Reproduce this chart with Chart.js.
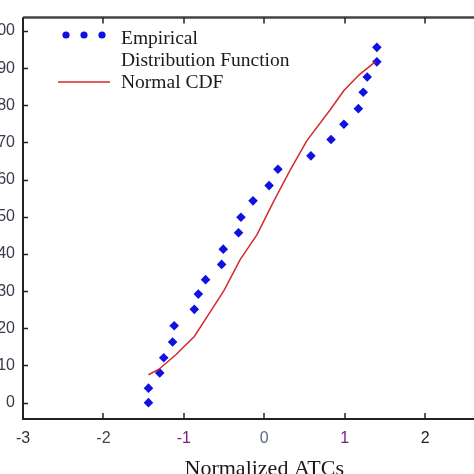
<!DOCTYPE html>
<html>
<head>
<meta charset="utf-8">
<script src="https://cdn.jsdelivr.net/npm/chart.js@4"></script>
<style>
  html, body { margin: 0; padding: 0; background: #fff; overflow: hidden; }
  #wrap { position: absolute; left: 0; top: 0; width: 520px; height: 474px; }
</style>
</head>
<body>
<div id="wrap"><canvas id="chart" width="520" height="474"></canvas></div>
<script>
const xTicks = [-3, -2, -1, 0, 1, 2, 3];
const yTicks = [0, 10, 20, 30, 40, 50, 60, 70, 80, 90, 100];

// empirical distribution points
const empX = [-1.44, -1.44, -1.30, -1.25, -1.14, -1.12, -0.87, -0.82, -0.73, -0.53, -0.51, -0.32,
              -0.29, -0.14, 0.06, 0.17, 0.58, 0.83, 0.99, 1.17, 1.23, 1.28, 1.40, 1.40];
const empY = [0, 3.9, 8.0, 12.1, 16.3, 20.7, 25.1, 29.2, 33.1, 37.2, 41.3, 45.7,
              49.9, 54.3, 58.4, 62.8, 66.4, 70.8, 74.9, 79.1, 83.5, 87.6, 91.7, 95.6];

// normal CDF curve
const cdfX = [-1.44, -1.31, -1.10, -0.87, -0.67, -0.50, -0.30, -0.09, 0.12, 0.32, 0.53, 0.82, 0.99, 1.19, 1.38];
const cdfY = [7.5, 9.0, 12.9, 17.8, 24.5, 30.2, 38.5, 45.2, 54.3, 62.5, 70.5, 78.8, 84.0, 88.4, 91.7];

const BLUE = '#1010e0';
const RED = '#d42a2a';
const xLabelColors = ['#333', '#444', '#7a1a7a', '#5a6a80', '#7a1a7a', '#222', '#222'];

// frame, inward ticks and the legend
const framePlugin = {
  id: 'frame',
  afterDraw(chart) {
    const { ctx, chartArea: a, scales: { x, y } } = chart;
    ctx.save();
    ctx.strokeStyle = '#222';
    ctx.lineWidth = 2;
    ctx.beginPath();
    ctx.moveTo(a.left, a.top); ctx.lineTo(a.left, a.bottom);
    ctx.lineTo(a.right, a.bottom);
    ctx.stroke();
    ctx.strokeStyle = '#444';
    ctx.lineWidth = 2.5;
    ctx.beginPath();
    ctx.moveTo(a.left, a.top); ctx.lineTo(a.right, a.top);
    ctx.stroke();
    ctx.lineWidth = 1.5;
    ctx.strokeStyle = '#222';
    ctx.beginPath();
    xTicks.forEach(v => {
      const px = Math.round(x.getPixelForValue(v));
      ctx.moveTo(px, a.bottom); ctx.lineTo(px, a.bottom - 6);
      ctx.moveTo(px, a.top); ctx.lineTo(px, a.top + 6);
    });
    yTicks.forEach(v => {
      const py = Math.round(y.getPixelForValue(v)) + 0.5;
      ctx.moveTo(a.left, py); ctx.lineTo(a.left + 5, py);
    });
    ctx.stroke();

    // legend
    ctx.fillStyle = BLUE;
    [66, 84, 102].forEach(cx => {
      ctx.beginPath(); ctx.arc(cx, 35, 3.6, 0, Math.PI * 2); ctx.fill();
    });
    ctx.strokeStyle = RED;
    ctx.lineWidth = 1.5;
    ctx.beginPath(); ctx.moveTo(58, 82); ctx.lineTo(110, 82); ctx.stroke();
    ctx.fillStyle = '#1a1a1a';
    ctx.font = '19.5px "Liberation Serif", "Times New Roman", serif';
    ctx.textBaseline = 'alphabetic';
    ctx.fillText('Empirical', 121, 44);
    ctx.fillText('Distribution Function', 121, 66);
    ctx.fillText('Normal CDF', 121, 88);
    ctx.restore();
  }
};

new Chart(document.getElementById('chart'), {
  type: 'scatter',
  data: {
    datasets: [{
      label: 'Empirical Distribution Function',
      data: empX.map((v, i) => ({ x: v, y: empY[i] })),
      pointStyle: 'rectRot',
      pointRadius: 4.8,
      pointBorderWidth: 0,
      backgroundColor: BLUE,
      borderColor: BLUE,
      order: 2
    }, {
      label: 'Normal CDF',
      type: 'line',
      data: cdfX.map((v, i) => ({ x: v, y: cdfY[i] })),
      borderColor: RED,
      borderWidth: 1.5,
      pointRadius: 0,
      fill: false,
      tension: 0,
      order: 1
    }]
  },
  options: {
    responsive: false,
    animation: false,
    layout: { padding: { top: 1, left: 0, right: 11, bottom: 0 } },
    plugins: { legend: { display: false }, tooltip: { enabled: false } },
    scales: {
      x: {
        type: 'linear',
        min: -3, max: 3,
        afterBuildTicks: s => { s.ticks = xTicks.map(v => ({ value: v })); },
        afterFit: s => { s.height = 55; },
        grid: { display: false, drawTicks: false },
        border: { display: false },
        ticks: {
          padding: 10,
          color: c => xLabelColors[c.index] || '#222',
          font: { family: '"Liberation Sans", Arial, sans-serif', size: 16 }
        },
        title: {
          display: true,
          text: 'Normalized ATCs',
          color: '#1a1a1a',
          padding: { top: 0, bottom: -8 },
          font: { family: '"Liberation Serif", "Times New Roman", serif', size: 22 }
        }
      },
      y: {
        type: 'linear',
        min: -4.4, max: 103.6,
        afterBuildTicks: s => { s.ticks = yTicks.map(v => ({ value: v })); },
        afterFit: s => { s.width = 23; },
        grid: { display: false, drawTicks: false },
        border: { display: false },
        ticks: {
          padding: 8,
          color: '#3a3a4a',
          font: { family: '"Liberation Sans", Arial, sans-serif', size: 16 }
        }
      }
    }
  },
  plugins: [framePlugin]
});
</script>
</body>
</html>
